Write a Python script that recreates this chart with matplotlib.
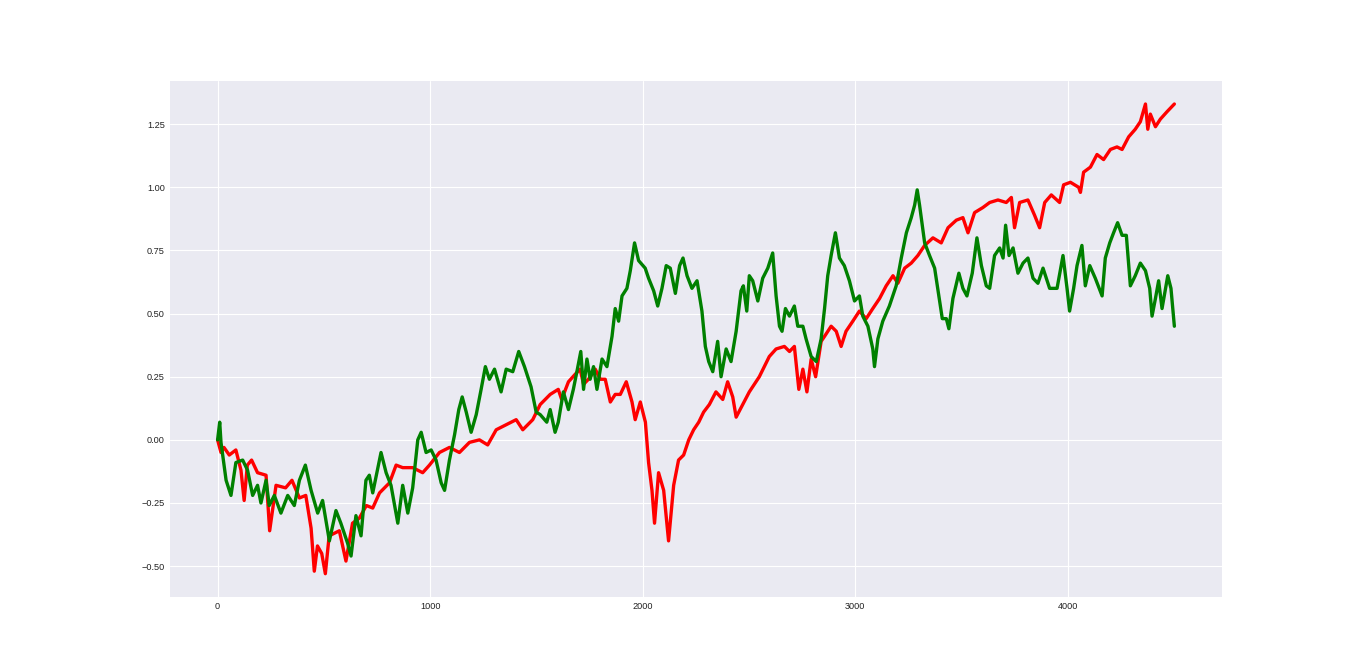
import numpy as np
import matplotlib
matplotlib.use("Agg")
import matplotlib.pyplot as plt

# values (day index, cumulative return)
red_x = [0, 16, 30, 55, 86, 110, 125, 140, 160, 188, 228, 245, 275, 320, 350, 385, 415, 440,
         455, 470, 490, 507, 525, 573, 604, 635, 667, 700, 730, 762, 809, 840, 871, 918, 965,
         997, 1044, 1091, 1138, 1185, 1232, 1271, 1311, 1358, 1405, 1436, 1483, 1518, 1565,
         1603, 1619, 1651, 1683, 1706, 1722, 1745, 1777, 1801, 1824, 1848, 1871, 1895, 1923,
         1950, 1965, 1989, 2013, 2028, 2044, 2056, 2075, 2099, 2122, 2146, 2169, 2193, 2217,
         2240, 2264, 2287, 2314, 2345, 2377, 2400, 2424, 2440, 2471, 2502, 2549, 2596, 2628,
         2667, 2691, 2714, 2735, 2754, 2773, 2793, 2814, 2840, 2856, 2887, 2911, 2934, 2957,
         2989, 3020, 3052, 3083, 3115, 3146, 3178, 3201, 3233, 3264, 3295, 3327, 3366, 3405,
         3437, 3476, 3507, 3531, 3562, 3601, 3633, 3672, 3711, 3735, 3750, 3774, 3813, 3844,
         3868, 3892, 3923, 3962, 3981, 4013, 4052, 4060, 4075, 4107, 4138, 4169, 4201, 4232,
         4256, 4287, 4318, 4342, 4366, 4377, 4389, 4413, 4436, 4468, 4502]
red_y = [0.00, -0.05, -0.03, -0.06, -0.04, -0.12, -0.24, -0.10, -0.08, -0.13, -0.14, -0.36,
         -0.18, -0.19, -0.16, -0.23, -0.22, -0.35, -0.52, -0.42, -0.45, -0.53, -0.38, -0.36,
         -0.48, -0.33, -0.31, -0.26, -0.27, -0.21, -0.17, -0.10, -0.11, -0.11, -0.13, -0.10,
         -0.05, -0.03, -0.05, -0.01, 0.00, -0.02, 0.04, 0.06, 0.08, 0.04, 0.08, 0.14, 0.18,
         0.20, 0.16, 0.23, 0.26, 0.28, 0.22, 0.24, 0.28, 0.24, 0.24, 0.15, 0.18, 0.18, 0.23,
         0.15, 0.08, 0.15, 0.07, -0.09, -0.20, -0.33, -0.13, -0.20, -0.40, -0.18, -0.08, -0.06,
         0.00, 0.04, 0.07, 0.11, 0.14, 0.19, 0.16, 0.23, 0.17, 0.09, 0.14, 0.19, 0.25, 0.33,
         0.36, 0.37, 0.35, 0.37, 0.20, 0.28, 0.19, 0.32, 0.25, 0.39, 0.41, 0.45, 0.43, 0.37,
         0.43, 0.47, 0.51, 0.48, 0.52, 0.56, 0.61, 0.65, 0.62, 0.68, 0.70, 0.73, 0.77, 0.80,
         0.78, 0.84, 0.87, 0.88, 0.82, 0.90, 0.92, 0.94, 0.95, 0.94, 0.96, 0.84, 0.94, 0.95,
         0.89, 0.84, 0.94, 0.97, 0.94, 1.01, 1.02, 1.00, 0.98, 1.06, 1.08, 1.13, 1.11, 1.15,
         1.16, 1.15, 1.20, 1.23, 1.26, 1.33, 1.23, 1.29, 1.24, 1.27, 1.30, 1.33]

green_x = [0, 10, 16, 40, 63, 86, 118, 141, 165, 188, 204, 228, 243, 267, 298, 330, 361, 385,
           413, 440, 471, 494, 526, 557, 580, 612, 628, 651, 675, 698, 714, 730, 769, 793, 816,
           848, 871, 895, 918, 942, 958, 981, 1005, 1028, 1052, 1068, 1091, 1115, 1135, 1151,
           1170, 1193, 1217, 1240, 1260, 1279, 1303, 1334, 1358, 1389, 1417, 1444, 1475, 1499,
           1518, 1549, 1565, 1588, 1603, 1627, 1651, 1674, 1693, 1709, 1722, 1738, 1753, 1769,
           1785, 1809, 1832, 1856, 1871, 1887, 1903, 1926, 1942, 1962, 1981, 2012, 2028, 2052,
           2071, 2091, 2111, 2130, 2154, 2174, 2190, 2209, 2232, 2256, 2279, 2295, 2311, 2330,
           2353, 2369, 2393, 2416, 2440, 2463, 2474, 2490, 2502, 2518, 2542, 2565, 2589, 2612,
           2628, 2644, 2656, 2672, 2691, 2714, 2730, 2754, 2769, 2793, 2817, 2840, 2856, 2871,
           2887, 2907, 2926, 2949, 2973, 2997, 3020, 3036, 3060, 3083, 3091, 3107, 3130, 3161,
           3193, 3217, 3241, 3264, 3280, 3292, 3303, 3327, 3350, 3374, 3394, 3410, 3429, 3441,
           3460, 3488, 3507, 3526, 3551, 3573, 3594, 3617, 3633, 3656, 3680, 3696, 3708, 3724,
           3743, 3766, 3790, 3813, 3837, 3860, 3884, 3915, 3950, 3978, 3997, 4009, 4028, 4044,
           4067, 4083, 4104, 4130, 4162, 4177, 4198, 4216, 4235, 4256, 4276, 4295, 4318, 4342,
           4366, 4386, 4397, 4413, 4428, 4444, 4471, 4486, 4502]
green_y = [0.00, 0.07, -0.01, -0.16, -0.22, -0.09, -0.08, -0.12, -0.22, -0.18, -0.25, -0.16,
           -0.26, -0.22, -0.29, -0.22, -0.26, -0.16, -0.10, -0.20, -0.29, -0.24, -0.40, -0.28,
           -0.33, -0.41, -0.46, -0.30, -0.38, -0.16, -0.14, -0.21, -0.05, -0.13, -0.18, -0.33,
           -0.18, -0.29, -0.19, 0.00, 0.03, -0.05, -0.04, -0.08, -0.17, -0.20, -0.08, 0.02,
           0.12, 0.17, 0.11, 0.03, 0.10, 0.20, 0.29, 0.24, 0.28, 0.19, 0.28, 0.27, 0.35, 0.29,
           0.21, 0.11, 0.10, 0.07, 0.12, 0.03, 0.07, 0.19, 0.12, 0.20, 0.28, 0.35, 0.20, 0.32,
           0.24, 0.29, 0.20, 0.32, 0.29, 0.41, 0.52, 0.47, 0.57, 0.60, 0.67, 0.78, 0.71, 0.68,
           0.64, 0.59, 0.53, 0.60, 0.69, 0.68, 0.58, 0.69, 0.72, 0.65, 0.60, 0.63, 0.51, 0.37,
           0.31, 0.27, 0.39, 0.25, 0.36, 0.31, 0.43, 0.59, 0.61, 0.51, 0.65, 0.63, 0.55, 0.64,
           0.68, 0.74, 0.57, 0.45, 0.43, 0.52, 0.49, 0.53, 0.45, 0.45, 0.40, 0.33, 0.31, 0.40,
           0.52, 0.65, 0.73, 0.82, 0.72, 0.69, 0.63, 0.55, 0.57, 0.49, 0.45, 0.36, 0.29, 0.40,
           0.47, 0.53, 0.61, 0.72, 0.82, 0.88, 0.93, 0.99, 0.93, 0.78, 0.73, 0.68, 0.57, 0.48,
           0.48, 0.44, 0.56, 0.66, 0.60, 0.57, 0.66, 0.80, 0.69, 0.61, 0.60, 0.73, 0.76, 0.72,
           0.85, 0.73, 0.76, 0.66, 0.70, 0.72, 0.64, 0.62, 0.68, 0.60, 0.60, 0.73, 0.60, 0.51,
           0.60, 0.69, 0.77, 0.61, 0.69, 0.64, 0.57, 0.72, 0.78, 0.82, 0.86, 0.81, 0.81, 0.61,
           0.65, 0.70, 0.67, 0.60, 0.49, 0.56, 0.63, 0.52, 0.65, 0.60, 0.45]

plt.style.use('seaborn-v0_8-darkgrid')
plt.rcParams['font.family'] = ['Liberation Sans', 'DejaVu Sans']

fig, ax = plt.subplots(figsize=(13.58, 6.71), dpi=100)
ax.plot(red_x, red_y, color='red', linewidth=2.4)
ax.plot(green_x, green_y, color='green', linewidth=2.4)
ax.set_xticks([0, 1000, 2000, 3000, 4000])
ax.set_yticks([-0.5, -0.25, 0.0, 0.25, 0.5, 0.75, 1.0, 1.25])
ax.tick_params(labelsize=6.6, colors='#222222')

fig.savefig('out.png', dpi=100)
